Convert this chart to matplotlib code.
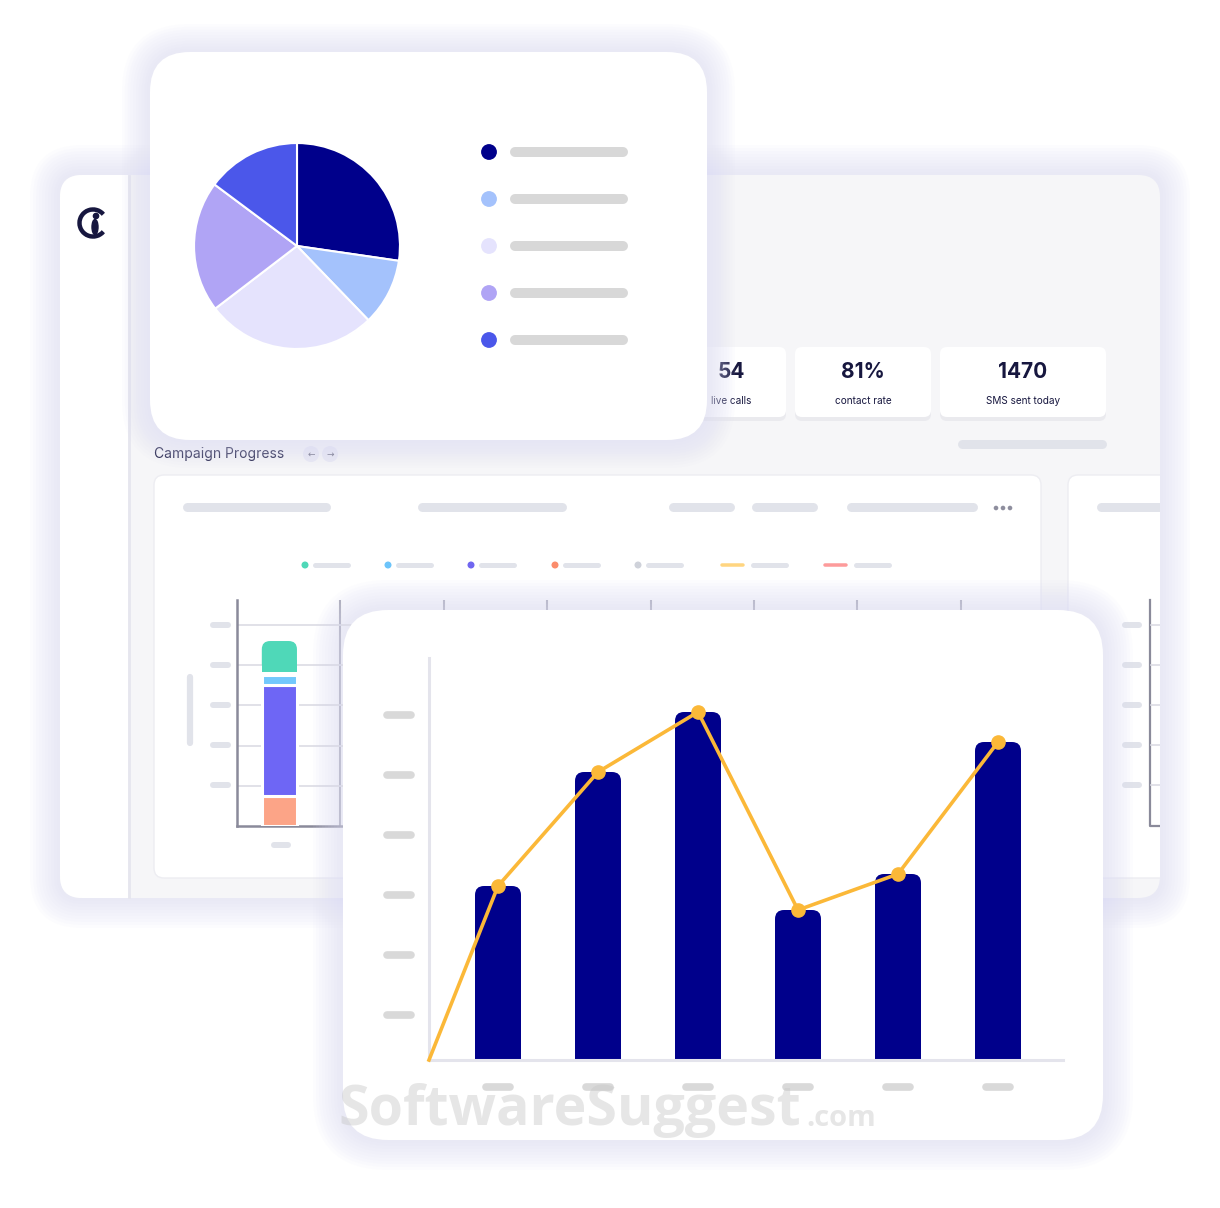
import matplotlib
matplotlib.use("Agg")
import matplotlib.pyplot as plt
from matplotlib.patches import FancyBboxPatch, Arc, Circle, Ellipse
import matplotlib.transforms as mtransforms
import numpy as np

plt.rcParams['font.family'] = ['Inter', 'DejaVu Sans']

W, H = 1220, 1208

# ---- data ----
pie_shares = [27.3, 10.5, 26.8, 20.6, 14.8]
pie_colors = ['#00008b', '#a4c2fc', '#e5e3fd', '#b0a4f5', '#4b57ea']

stat_values = ['54', '81%', '1470']
stat_labels = ['live calls', 'contact rate', 'SMS sent today']

stack_segments = [0.75, 2.75, 0.25, 0.85]
stack_colors = ['#fca487', '#6e66f5', '#73c8fc', '#4fd8b8']
legend_colors = ['#4fd8b8', '#6cc4fa', '#7066f0', '#fb8c6c', '#cfd2da', '#ffd580', '#fd9b9b']
legend_kinds = ['dot', 'dot', 'dot', 'dot', 'dot', 'line', 'line']

bar_values = [29, 48, 58, 25, 31, 53]
line_values = [29, 48, 58, 25, 31, 53]
line_start = 0

NAVY_TEXT = '#17173f'

fig = plt.figure(figsize=(W / 100, H / 100), dpi=100)
fig.patch.set_facecolor('white')


def canvas(z):
    ax = fig.add_axes([0, 0, 1, 1], zorder=z)
    ax.set_xlim(0, W)
    ax.set_ylim(H, 0)
    ax.axis('off')
    ax.patch.set_alpha(0)
    return ax


def rbox(ax, x0, y0, x1, y1, r, **kw):
    p = FancyBboxPatch((x0 + r, y0 + r), (x1 - x0) - 2 * r, (y1 - y0) - 2 * r,
                       boxstyle=f"round,pad={r},rounding_size={r}", **kw)
    ax.add_patch(p)
    return p


def pill(ax, x0, x1, y, h, color, z=3):
    return ax.plot([x0 + h / 2, x1 - h / 2], [y, y], color=color, lw=h * 0.72,
                   solid_capstyle='round', zorder=z)[0]


def glow(ax, x0, y0, x1, y1, r, spread=30, color='#dcdcf4'):
    n = 10
    for i in range(n, 0, -1):
        e = spread * i / n
        rbox(ax, x0 - e, y0 - e, x1 + e, y1 + e, r + e, facecolor=color,
             edgecolor='none', alpha=0.07, zorder=0)


def px_rect(x0, y0, x1, y1):
    return [x0 / W, 1 - y1 / H, (x1 - x0) / W, (y1 - y0) / H]


# ---- layer 0: back window ----
bg = canvas(0)
glow(bg, 60, 175, 1160, 898, 22, spread=30)
window = rbox(bg, 60, 175, 1160, 898, 22, facecolor='#f6f6f8', edgecolor='none', zorder=1)
# sidebar
rbox(bg, 60, 175, 150, 898, 22, facecolor='white', edgecolor='none', zorder=2)
bg.add_patch(plt.Rectangle((128, 175), 25, 723, facecolor='#f6f6f8', edgecolor='none', zorder=2))
bg.plot([129, 129], [176, 897], color='#e6e6ee', lw=2, zorder=3)

# logo
bg.add_patch(Arc((93, 223), 27, 27, theta1=40, theta2=320, color=NAVY_TEXT, lw=3.2, zorder=4))
bg.add_patch(Ellipse((95, 227), 6, 15, color=NAVY_TEXT, zorder=4))
bg.add_patch(Circle((96, 216), 2.6, color=NAVY_TEXT, zorder=4))

# stat cards
cards = [(690, 786), (795, 931), (940, 1106)]
centers = [731, 863, 1023]
for (x0, x1), cx, val, lab in zip(cards, centers, stat_values, stat_labels):
    rbox(bg, x0, 350, x1, 421, 7, facecolor='#d4d4de', edgecolor='none', alpha=0.35, zorder=2)
    rbox(bg, x0, 347, x1, 417, 7, facecolor='white', edgecolor='none', zorder=3)
    bg.text(cx, 372, val, ha='center', va='center', fontsize=15, fontweight='bold',
            color=NAVY_TEXT, zorder=4)
    bg.text(cx, 401, lab, ha='center', va='center', fontsize=7.2, color=NAVY_TEXT, zorder=4)
pill(bg, 957, 1106, 444, 9, '#e1e3ea')

# campaign heading
bg.text(154, 454, 'Campaign Progress', ha='left', va='center', fontsize=10, color=NAVY_TEXT, zorder=4)
for cx, arrow in [(311, '←'), (330, '→')]:
    bg.add_patch(Circle((cx, 454), 8, facecolor='#e8e8f2', edgecolor='none', zorder=3))
    bg.text(cx, 454, arrow, ha='center', va='center', fontsize=6.5, color='#6a6a80',
            family=['DejaVu Sans'], zorder=4)

# campaign card
rbox(bg, 154, 475, 1041, 878, 10, facecolor='white', edgecolor='#ededf2', lw=1, zorder=2)
for x0, x1 in [(182, 330), (417, 566), (668, 734), (751, 817), (846, 977)]:
    pill(bg, x0, x1, 507, 9, '#e1e3ea')
for dx in (-7, 0, 7):
    bg.add_patch(Circle((1003 + dx, 508), 1.6, color='#8e8e9e', zorder=3))

# legend row
lx = [305, 388, 471, 555, 638, 720, 823]
for x, c, k in zip(lx, legend_colors, legend_kinds):
    if k == 'dot':
        bg.add_patch(Circle((x, 565), 2.8, color=c, zorder=3))
        pill(bg, x + 7, x + 45, 565, 5, '#e1e3ea')
    else:
        pill(bg, x, x + 25, 565, 3.5, c)
        pill(bg, x + 30, x + 68, 565, 5, '#e1e3ea')

# y placeholders of the small chart
bg.plot([190, 190], [677, 743], color='#e1e3ea', lw=4.5, solid_capstyle='round', zorder=3)
for y in [625, 665, 705, 745, 785]:
    pill(bg, 210, 231, y, 6, '#e1e3ea')
pill(bg, 271, 291, 845, 6, '#e1e3ea')

# right partial card, cut off by the window edge
right_items = [rbox(bg, 1068, 475, 1190, 878, 10, facecolor='white', edgecolor='#ededf2', lw=1, zorder=2),
               pill(bg, 1096, 1180, 507, 9, '#e1e3ea'),
               bg.plot([1150, 1150, 1180], [600, 826, 826], color='#8a8a9a', lw=1.6, zorder=3)[0]]
for y in [625, 665, 705, 745, 785]:
    pill(bg, 1122, 1142, y, 6, '#e1e3ea')
    right_items.append(bg.plot([1151, 1180], [y, y], color='#dcdce4', lw=1.2, zorder=3)[0])
for it in right_items:
    it.set_clip_path(window)

# ---- small stacked bar chart ----
sax = fig.add_axes(px_rect(237, 600, 1000, 826), zorder=1)
sax.set_xlim(-0.41, 6.97)
sax.set_ylim(0, 5.62)
sax.patch.set_alpha(0)
bottom = 0
gap = 0.08
for i, (v, c) in enumerate(zip(stack_segments, stack_colors)):
    if i < len(stack_segments) - 1:
        sax.bar(0, v, bottom=bottom, width=0.34, color=c, edgecolor='white', lw=2.2, zorder=3)
    else:
        # rounded cap on the top segment
        asp = 103.0 / 40.2
        rs = 0.08
        p = FancyBboxPatch((-0.17 + rs, bottom + gap + rs * asp), 0.34 - 2 * rs,
                           v - gap - 2 * rs * asp,
                           boxstyle=f"round,pad={rs},rounding_size={rs}", mutation_aspect=asp,
                           facecolor=c, edgecolor='none', zorder=3)
        sax.add_patch(p)
        sax.bar(0, 0.3, bottom=bottom + gap, width=0.34, color=c, edgecolor='none', zorder=3)
    bottom += v
sax.set_yticks([1, 2, 3, 4, 5])
sax.set_xticks([0.59 + k for k in range(7)])
sax.grid(True, axis='y', color='#dcdce4', lw=1.2, zorder=0)
sax.grid(True, axis='x', color='#a8a8b6', lw=1.5, zorder=0)
sax.tick_params(length=0, labelleft=False, labelbottom=False)
for s in ['top', 'right']:
    sax.spines[s].set_visible(False)
for s in ['left', 'bottom']:
    sax.spines[s].set_color('#8a8a9a')
    sax.spines[s].set_linewidth(1.8)

# ---- pie card layer ----
pc = canvas(2)
glow(pc, 150, 52, 707, 440, 40, spread=28)
rbox(pc, 150, 52, 707, 440, 40, facecolor='white', edgecolor='none', zorder=1)
for i, c in enumerate(pie_colors):
    y = 152 + 47 * i
    pc.add_patch(Circle((489, y), 7.2, color=c, zorder=3))
    pill(pc, 510, 628, y, 10, '#d8d8d8')

pax = fig.add_axes(px_rect(193, 142, 401, 350), zorder=3)
pax.pie(pie_shares, colors=pie_colors, startangle=90, counterclock=False,
        wedgeprops=dict(edgecolor='white', linewidth=1.5))
pax.set_xlim(-1.01, 1.01)
pax.set_ylim(-1.01, 1.01)
pax.set_aspect('equal')
pax.axis('off')

# ---- big chart card layer ----
bc = canvas(4)
glow(bc, 343, 610, 1103, 1140, 45, spread=30)
rbox(bc, 343, 610, 1103, 1140, 45, facecolor='white', edgecolor='none', zorder=1)

bax = fig.add_axes(px_rect(429, 658, 1063, 1060), zorder=5)
bax.patch.set_alpha(0)
xs = np.arange(len(bar_values))
bax.set_xlim(-0.69, 5.65)
bax.set_ylim(0, 67)
bar_w = 0.46
ppx = 100.0  # pixels per x unit
ppy = 402 / 67.0  # pixels per y unit
for x, v in zip(xs, bar_values):
    rs = 0.09
    p = FancyBboxPatch((x - bar_w / 2 + rs, -10), bar_w - 2 * rs, v + 10 - rs * ppx / ppy,
                       boxstyle=f"round,pad={rs},rounding_size={rs}",
                       mutation_aspect=ppx / ppy, facecolor='#00008b', edgecolor='none', zorder=2)
    bax.add_patch(p)
lx_vals = np.concatenate([[bax.get_xlim()[0]], xs])
ly_vals = [line_start] + list(line_values)
bax.plot(lx_vals, ly_vals, color='#fbb838', lw=2.6, zorder=3, clip_on=False)
bax.plot(xs, line_values, 'o', color='#fbb838', ms=9.5, zorder=4, clip_on=False)
for s in ['top', 'right']:
    bax.spines[s].set_visible(False)
for s in ['left', 'bottom']:
    bax.spines[s].set_color('#e4e4ec')
    bax.spines[s].set_linewidth(2.2)
bax.set_xticks([])
bax.set_yticks([])
# tick placeholders
yt = mtransforms.blended_transform_factory(bax.transAxes, bax.transData)
for v in [7.5 + 10 * k for k in range(6)]:
    bax.plot([-0.066, -0.029], [v, v], transform=yt, color='#d9d9d9', lw=5.5,
             solid_capstyle='round', clip_on=False)
xt = mtransforms.blended_transform_factory(bax.transData, bax.transAxes)
for x in xs:
    bax.plot([x - 0.12, x + 0.12], [-0.067, -0.067], transform=xt, color='#d9d9d9', lw=5.5,
             solid_capstyle='round', clip_on=False)

# watermark
wm = canvas(6)
wm.text(338, 1111, 'SoftwareSuggest', ha='left', va='center', fontsize=40, fontweight='bold',
        color='#c8c8c8', alpha=0.45, family=['Open Sans', 'DejaVu Sans'])
wm.text(806, 1118, '.com', ha='left', va='center', fontsize=21, fontweight='bold',
        color='#c8c8c8', alpha=0.45, family=['Open Sans', 'DejaVu Sans'])

fig.savefig('out.png', dpi=100)
